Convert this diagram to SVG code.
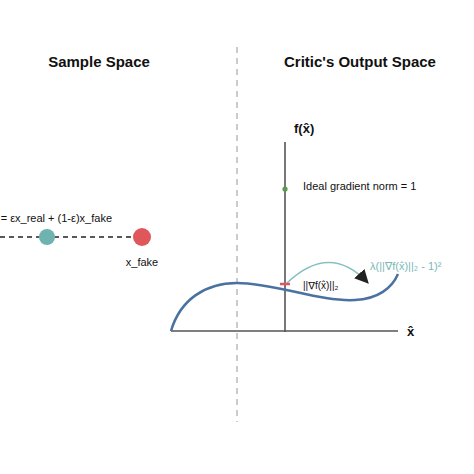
<svg xmlns="http://www.w3.org/2000/svg" width="474" height="474" viewBox="0 0 474 474">
<style>
text{font-family:"Liberation Sans","DejaVu Sans",Arial,sans-serif;}
.title{font-size:15px;font-weight:bold;fill:#111;text-anchor:middle;}
.lbl{font-size:11px;fill:#111;}
.axis{stroke:#555;stroke-width:1.6;fill:none;}
</style>
<defs>
<marker id="ah" viewBox="0 0 10 10" refX="9" refY="5" markerWidth="9" markerHeight="9" markerUnits="userSpaceOnUse" orient="auto">
<path d="M0,0 L10,5 L0,10 z" fill="#222"/>
</marker>
<marker id="ah2" viewBox="0 0 12 12" refX="11" refY="6" markerWidth="14" markerHeight="14" markerUnits="userSpaceOnUse" orient="auto">
<path d="M0,0 L12,6 L0,12 z" fill="#222"/>
</marker>
</defs>
<rect width="474" height="474" fill="#fff"/>
<text class="title" x="99" y="67">Sample Space</text>
<text class="title" x="360" y="67">Critic's Output Space</text>
<line x1="237" y1="47" x2="237" y2="422" stroke="#bbb" stroke-width="1.5" stroke-dasharray="6,5"/>
<g id="connectors">
<line x1="0" y1="237" x2="135" y2="237" stroke="#222" stroke-width="1.6" stroke-dasharray="5,4"/>
<path d="M287,283 Q330,242 368,283" fill="none" stroke="#88c0c0" stroke-width="1.6" marker-end="url(#ah2)"/>
</g>
<g id="interp">
<circle cx="47" cy="237" r="8" fill="#6fb3b0"/>
<text class="lbl" x="112" y="222" text-anchor="end">x̂ = εx_real + (1-ε)x_fake</text>
</g>
<g id="xfake">
<circle cx="142" cy="237" r="9" fill="#e0575b"/>
<text class="lbl" x="142" y="266" text-anchor="middle">x_fake</text>
</g>
<g id="axes">
<line class="axis" x1="285" y1="142" x2="285" y2="332"/>
<line class="axis" x1="171" y1="331" x2="398" y2="331"/>
<text x="294" y="133" font-size="13" font-weight="bold" fill="#111">f(x̂)</text>
<text x="407" y="336" font-size="13" font-weight="bold" fill="#111">x̂</text>
</g>
<g id="curve">
<path d="M171,331 C180,300 205,283 237,283 C275,283 320,302 355,300 C378,299 392,288 398,274" fill="none" stroke="#4a72a0" stroke-width="2.5"/>
</g>
<g id="ideal">
<circle cx="285" cy="189" r="2.6" fill="#5a9a4e"/>
<text class="lbl" x="303" y="190">Ideal gradient norm = 1</text>
</g>
<g id="gradnorm">
<line x1="280" y1="284" x2="290" y2="284" stroke="#e0575b" stroke-width="2.5"/>
<text x="303" y="289" font-size="10" fill="#111">||∇f(x̂)||₂</text>
</g>
<g id="penalty">
<text x="370" y="270" font-size="11" fill="#7ab8b8">λ(||∇f(x̂)||₂ - 1)²</text>
</g>
</svg>
